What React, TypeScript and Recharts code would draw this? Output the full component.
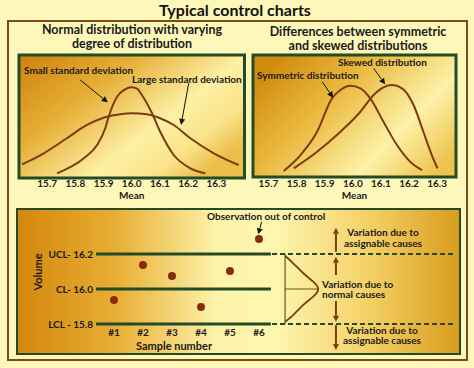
import {
  LineChart,
  ComposedChart,
  Line,
  Scatter,
  XAxis,
  YAxis,
  ReferenceArea,
  ReferenceLine,
} from "recharts";

// ---- data ----
const meanTicks = [15.7, 15.8, 15.9, 16.0, 16.1, 16.2, 16.3];

// left panel: normal curves (x = mean, y = relative frequency 0..100)
const smallSdX = [15.735, 15.83, 15.877, 15.906, 15.918, 15.948, 15.975, 16.0, 16.02, 16.036, 16.072, 16.101, 16.149, 16.208, 16.261];
const smallSdY = [3.8, 16, 26.8, 40.4, 49.8, 66.1, 71.9, 73.7, 72.4, 67.5, 52.6, 37.6, 18.7, 7.9, 3.8];
const largeSdX = [15.611, 15.688, 15.77, 15.841, 15.9, 15.959, 16.0, 16.054, 16.096, 16.149, 16.208, 16.291, 16.379];
const largeSdY = [11.1, 20.1, 32.3, 43.1, 49, 51.8, 52.6, 51.8, 49, 43.1, 32.3, 20.1, 10.6];

// right panel: symmetric vs skewed
const symX = [15.754, 15.814, 15.873, 15.926, 15.956, 15.991, 16.027, 16.062, 16.109, 16.157, 16.204, 16.246];
const symY = [4.9, 18, 37.1, 64.5, 71.3, 74.8, 72.7, 64.5, 45.3, 26.2, 12.5, 5.7];
const skewX = [15.79, 15.873, 15.956, 16.027, 16.074, 16.109, 16.139, 16.175, 16.216, 16.251, 16.281, 16.301];
const skewY = [7.1, 20.7, 37.1, 53.5, 67.2, 73.5, 75.4, 72.7, 59, 37.1, 18, 7.1];

// bottom: control chart
const samples = ["#1", "#2", "#3", "#4", "#5", "#6"];
const sampleVolume = [15.937, 16.137, 16.074, 15.897, 16.103, 16.286];
const limits = [15.8, 16.0, 16.2];
const limitLabels = ["LCL - 15.8", "CL- 16.0", "UCL- 16.2"];

// sideways bell next to the limits
const bellX = [6.9, 7.18, 7.53, 7.87, 8.04, 7.87, 7.53, 7.18, 6.9];
const bellY = [16.19, 16.147, 16.09, 16.042, 16.0, 15.956, 15.909, 15.851, 15.813];

const pts = (xs: number[], ys: number[]) => xs.map((x, i) => ({ x, y: ys[i] }));

const FONT = "Lato, 'Open Sans', sans-serif";
const CURVE = "#7a3c10";
const GREEN = "#244b26";
const tickStyle = { fontSize: 10, fontWeight: 700, fill: "#1a1a1a", fontFamily: FONT };

function Arrow(props: any) {
  const { x1, y1, x2, y2, stroke, strokeWidth } = props;
  const a = Math.atan2(y2 - y1, x2 - x1);
  const len = 6;
  const half = 3;
  const bx = x2 - len * Math.cos(a);
  const by = y2 - len * Math.sin(a);
  const p = `${x2},${y2} ${bx + half * Math.sin(a)},${by - half * Math.cos(a)} ${bx - half * Math.sin(a)},${by + half * Math.cos(a)}`;
  return (
    <g>
      <line x1={x1} y1={y1} x2={bx} y2={by} stroke={stroke} strokeWidth={strokeWidth} />
      <polygon points={p} fill={stroke} />
    </g>
  );
}

function Note({ left, top, width, align = "left", lh = 12, size = 10, children }: any) {
  return (
    <div
      style={{
        position: "absolute",
        left,
        top,
        width,
        textAlign: align,
        fontSize: size,
        lineHeight: `${lh}px`,
        fontWeight: 700,
        color: "#1a1a1a",
        whiteSpace: "nowrap",
      }}
    >
      {children}
    </div>
  );
}

export default function App() {
  return (
    <div
      style={{
        position: "fixed",
        left: 0,
        top: 0,
        width: 474,
        height: 368,
        background: "#fdf8b9",
        fontFamily: FONT,
        overflow: "hidden",
      }}
    >
      {/* title + frame */}
      <div style={{ position: "absolute", left: 0, top: 0, width: 470, textAlign: "center", fontSize: 16, lineHeight: "20px", fontWeight: 700, color: "#111" }}>
        Typical control charts
      </div>
      <div style={{ position: "absolute", left: 7, top: 20, width: 461, height: 341, border: "2px solid #7a4c14", boxSizing: "border-box" }} />

      <Note left={19} top={23} width={226} align="center" lh={14} size={12.5}>
        Normal distribution with varying
        <br />
        degree of distribution
      </Note>
      <Note left={253} top={25} width={210} align="center" lh={13.5} size={12.5}>
        Differences between symmetric
        <br />
        and skewed distributions
      </Note>

      {/* top-left chart */}
      <div style={{ position: "absolute", left: 0, top: 0 }}>
        <LineChart width={250} height={205} margin={{ top: 55, right: 5.5, bottom: 0, left: 19 }}>
          <defs>
            <linearGradient id="gradL" x1="0" y1="0" x2="1" y2="0.7">
              <stop offset="0" stopColor="#cd820c" />
              <stop offset="0.35" stopColor="#e6ae36" />
              <stop offset="0.68" stopColor="#fdf0a4" />
              <stop offset="0.86" stopColor="#fae38a" />
              <stop offset="1" stopColor="#ecbf4a" />
            </linearGradient>
          </defs>
          <XAxis
            type="number"
            dataKey="x"
            domain={[15.6, 16.4]}
            ticks={meanTicks}
            interval={0}
            tickFormatter={(v: number) => v.toFixed(1)}
            axisLine={false}
            tickLine={false}
            tickSize={0}
            tickMargin={2}
            height={27}
            tick={tickStyle}
            label={{ value: "Mean", position: "insideBottom", offset: 6, style: tickStyle }}
          />
          <YAxis hide type="number" domain={[0, 100]} />
          <ReferenceArea x1={15.6} x2={16.4} y1={0} y2={100} fill="url(#gradL)" fillOpacity={1} stroke={GREEN} strokeWidth={3} />
          <Line data={pts(largeSdX, largeSdY)} dataKey="y" type="monotone" stroke={CURVE} strokeWidth={2} dot={false} isAnimationActive={false} />
          <Line data={pts(smallSdX, smallSdY)} dataKey="y" type="monotone" stroke={CURVE} strokeWidth={2} dot={false} isAnimationActive={false} />
          <ReferenceLine segment={[{ x: 15.817, y: 79.7 }, { x: 15.915, y: 61.5 }]} stroke="#111" strokeWidth={1} shape={Arrow} ifOverflow="visible" />
          <ReferenceLine segment={[{ x: 16.202, y: 77 }, { x: 16.175, y: 43.1 }]} stroke="#111" strokeWidth={1} shape={Arrow} ifOverflow="visible" />
        </LineChart>
      </div>

      {/* top-right chart */}
      <div style={{ position: "absolute", left: 250, top: 0 }}>
        <LineChart width={224} height={205} margin={{ top: 55, right: 18, bottom: 0, left: 3 }}>
          <defs>
            <linearGradient id="gradR" x1="0" y1="0.2" x2="1" y2="0.8">
              <stop offset="0" stopColor="#d08a0e" />
              <stop offset="0.35" stopColor="#eab93e" />
              <stop offset="0.72" stopColor="#fdf2a8" />
              <stop offset="1" stopColor="#eec24e" />
            </linearGradient>
          </defs>
          <XAxis
            type="number"
            dataKey="x"
            domain={[15.645, 16.367]}
            ticks={meanTicks}
            interval={0}
            tickFormatter={(v: number) => v.toFixed(1)}
            axisLine={false}
            tickLine={false}
            tickSize={0}
            tickMargin={3}
            height={28}
            tick={tickStyle}
            label={{ value: "Mean", position: "insideBottom", offset: 6, style: tickStyle }}
          />
          <YAxis hide type="number" domain={[0, 100]} />
          <ReferenceArea x1={15.645} x2={16.367} y1={0} y2={100} fill="url(#gradR)" fillOpacity={1} stroke={GREEN} strokeWidth={3} />
          <Line data={pts(symX, symY)} dataKey="y" type="monotone" stroke={CURVE} strokeWidth={2} dot={false} isAnimationActive={false} />
          <Line data={pts(skewX, skewY)} dataKey="y" type="monotone" stroke={CURVE} strokeWidth={2} dot={false} isAnimationActive={false} />
          <ReferenceLine segment={[{ x: 15.891, y: 78.1 }, { x: 15.93, y: 65 }]} stroke="#111" strokeWidth={1} shape={Arrow} ifOverflow="visible" />
          <ReferenceLine segment={[{ x: 16.074, y: 89.1 }, { x: 16.115, y: 76 }]} stroke="#111" strokeWidth={1} shape={Arrow} ifOverflow="visible" />
        </LineChart>
      </div>

      <Note left={24} top={64}>Small standard deviation</Note>
      <Note left={132} top={73}>Large standard deviation</Note>
      <Note left={257} top={69}>Symmetric distribution</Note>
      <Note left={338} top={56}>Skewed distribution</Note>

      {/* bottom panel */}
      <div
        style={{
          position: "absolute",
          left: 16,
          top: 208,
          width: 445,
          height: 147,
          border: `2px solid ${GREEN}`,
          boxSizing: "border-box",
          background: "linear-gradient(90deg, #d4870c 0%, #e8ae34 22%, #fdf3aa 45%, #fef6b0 58%, #f4d064 80%, #d99c1e 100%)",
        }}
      />
      <div style={{ position: "absolute", left: 0, top: 200 }}>
        <ComposedChart width={474} height={168} margin={{ top: 19, right: 19, bottom: 14, left: 16 }}>
          <XAxis
            type="number"
            dataKey="x"
            domain={[0.38, 12.76]}
            ticks={[1, 2, 3, 4, 5, 6]}
            interval={0}
            tickFormatter={(v: number) => samples[v - 1]}
            axisLine={false}
            tickLine={false}
            tickSize={0}
            tickMargin={5}
            height={30}
            tick={tickStyle}
          />
          <YAxis
            type="number"
            dataKey="y"
            domain={[15.8, 16.4]}
            ticks={limits}
            interval={0}
            tickFormatter={(v: number) => limitLabels[limits.indexOf(v)]}
            axisLine={false}
            tickLine={false}
            tickSize={0}
            tickMargin={3}
            width={80}
            tick={tickStyle}
          />
          {limits.map((l) => (
            <ReferenceLine key={`s${l}`} segment={[{ x: 0.38, y: l }, { x: 6.41, y: l }]} stroke={GREEN} strokeWidth={3} ifOverflow="visible" />
          ))}
          {[limits[0], limits[2]].map((l) => (
            <ReferenceLine key={`d${l}`} segment={[{ x: 6.45, y: l }, { x: 12.76, y: l }]} stroke={GREEN} strokeWidth={2} strokeDasharray="5 3" ifOverflow="visible" />
          ))}
          <ReferenceLine segment={[{ x: 6.9, y: 16.2 }, { x: 6.9, y: 15.8 }]} stroke="#3a3a22" strokeWidth={1} ifOverflow="visible" />
          <ReferenceLine segment={[{ x: 6.9, y: 16.0 }, { x: 8.04, y: 16.0 }]} stroke="#5a5a22" strokeWidth={1} ifOverflow="visible" />
          <Line data={pts(bellX, bellY)} dataKey="y" type="natural" stroke={CURVE} strokeWidth={1.8} dot={false} isAnimationActive={false} />
          <Scatter
            data={sampleVolume.map((v, i) => ({ x: i + 1, y: v }))}
            dataKey="y"
            fill="#8a2a08"
            shape={(p: any) => <circle cx={p.cx} cy={p.cy} r={4} fill="#8a2a08" />}
            isAnimationActive={false}
          />
          <ReferenceLine segment={[{ x: 6.093, y: 16.385 }, { x: 5.976, y: 16.313 }]} stroke="#111" strokeWidth={1} shape={Arrow} ifOverflow="visible" />
          <ReferenceLine segment={[{ x: 8.655, y: 16.213 }, { x: 8.655, y: 16.35 }]} stroke={CURVE} strokeWidth={2} shape={Arrow} ifOverflow="visible" />
          <ReferenceLine segment={[{ x: 8.655, y: 16.08 }, { x: 8.655, y: 16.185 }]} stroke={CURVE} strokeWidth={2} shape={Arrow} ifOverflow="visible" />
          <ReferenceLine segment={[{ x: 8.655, y: 15.931 }, { x: 8.655, y: 15.813 }]} stroke={CURVE} strokeWidth={2} shape={Arrow} ifOverflow="visible" />
          <ReferenceLine segment={[{ x: 8.655, y: 15.794 }, { x: 8.655, y: 15.651 }]} stroke={CURVE} strokeWidth={2} shape={Arrow} ifOverflow="visible" />
        </ComposedChart>
      </div>

      <Note left={207} top={210}>Observation out of control</Note>
      <Note left={333} top={226.5} width={100} align="center" lh={11}>
        Variation due to
        <br />
        assignable causes
      </Note>
      <Note left={322} top={278.5} lh={10.5}>
        Variation due to
        <br />
        normal causes
      </Note>
      <Note left={332} top={324.5} width={100} align="center" lh={10.5}>
        Variation due to
        <br />
        assignable causes
      </Note>
      <Note left={124} top={340} width={100} align="center" size={11} lh={11}>
        Sample number
      </Note>
      <div
        style={{
          position: "absolute",
          left: 37,
          top: 272,
          transform: "translate(-50%, -50%) rotate(-90deg)",
          fontSize: 11,
          fontWeight: 700,
          color: "#1a1a1a",
        }}
      >
        Volume
      </div>
    </div>
  );
}
